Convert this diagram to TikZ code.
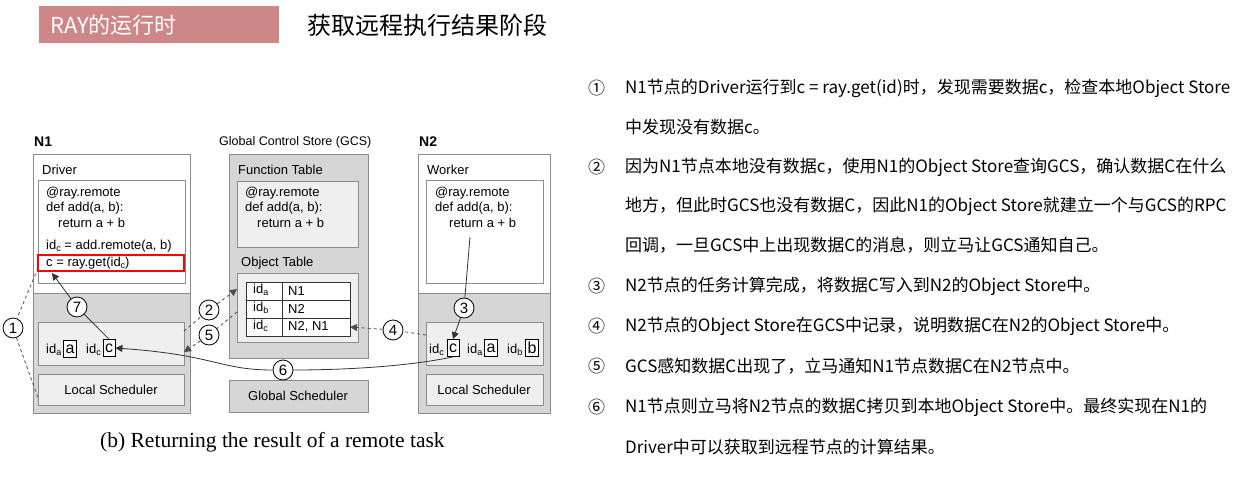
\documentclass[tikz,border=0pt]{standalone}
\usepackage{fontspec}
\usetikzlibrary{arrows.meta}
\newfontfamily\cjk{Noto Sans CJK SC}
\newfontfamily\ars{Liberation Sans}
\newfontfamily\tms{Liberation Serif}
\definecolor{rose}{HTML}{CD8788}
\definecolor{gbox}{HTML}{D6D6D6}
\definecolor{lbox}{HTML}{EFEFEF}
\definecolor{edge}{HTML}{8C8C8C}
\newcommand{\idx}[1]{id\raisebox{-2.5pt}{\fontsize{9}{9}\selectfont #1}}

\begin{document}
\begin{tikzpicture}[x=1pt,y=-1pt]
  \tikzset{G/.style={draw=edge, fill=gbox}}
  \tikzset{L/.style={draw=edge, fill=lbox}}
  \tikzset{W/.style={draw=edge, fill=white}}
  \tikzset{T/.style={font=\ars\fontsize{13}{14}\selectfont, anchor=west, inner sep=0}}
  \tikzset{CI/.style={circle, draw=black, fill=white, thick, inner sep=0, minimum size=20,
      font=\ars\fontsize{15}{15}\selectfont}}
  \tikzset{OB/.style={draw=black, thick, fill=white, inner sep=2, minimum height=17,
      font=\ars\fontsize{16}{16}\selectfont}}
  \tikzset{DA/.style={dashed, draw=black!70, thick, -{Triangle[length=7,width=7]}}}
  \tikzset{SO/.style={thick, draw=black!80, -{Triangle[length=7,width=7]}}}
  \tikzset{TX/.style={font=\cjk\fontsize{17}{17}\selectfont, anchor=west, inner sep=0}}
  \useasboundingbox (0,0) rectangle (1253,503);
  \fill[white] (0,0) rectangle (1253,503);

  % header
  \fill[rose] (39,6) rectangle (279,43);
  \node[TX, text=white, font=\cjk\fontsize{22}{22}\selectfont] (hd) at (50,25) {RAY的运行时};
  \node[TX, font=\cjk\fontsize{24}{24}\selectfont] (tt) at (307,25) {获取远程执行结果阶段};

  % N1
  \node[T, font=\ars\fontsize{14}{14}\selectfont\bfseries] (n1) at (34,142) {N1};
  \draw[W] (33,154) rectangle (190,413);
  \fill[gbox] (33.5,293) rectangle (189.5,412.5);
  \draw[edge] (33,293) -- (190,293);
  \node[T] (drv) at (42,170) {Driver};
  \draw[W] (38,180) rectangle (185,283);
  \node[T] at (46,193) {@ray.remote};
  \node[T] at (46,208) {def add(a, b):};
  \node[T] at (58,223) {return a + b};
  \node[T] at (46,246) {\idx{c} = add.remote(a, b)};
  \node[T] (get) at (46,263) {c = ray.get(\idx{c})};
  \draw[red, very thick] (38,255) rectangle (184,271);
  \draw[L] (38,322) rectangle (184,365);
  \node[T] at (46,350) {\idx{a}};
  \node[OB] (a1) at (70,349) {a};
  \node[T] at (86,350) {\idx{c}};
  \node[OB] (c1) at (109,348) {c};
  \draw[L] (38,374) rectangle (184,405);
  \node[T, anchor=center] (ls1) at (111,390) {Local Scheduler};

  % GCS
  \node[T, font=\ars\fontsize{12.5}{13}\selectfont] (gcs) at (219,142) {Global Control Store (GCS)};
  \draw[G] (229,154) rectangle (368,358);
  \node[T] (ft) at (238,170) {Function Table};
  \draw[L] (237,181) rectangle (358,247);
  \node[T] at (245,193) {@ray.remote};
  \node[T] at (245,208) {def add(a, b):};
  \node[T] at (257,223) {return a + b};
  \node[T] (ot) at (241,263) {Object Table};
  \draw[L] (237,273) rectangle (358,342);
  \draw[W, draw=black!80] (246,282) rectangle (350,336);
  \draw[black!80] (246,300) -- (350,300) (246,318) -- (350,318) (282,282) -- (282,336);
  \node[T] at (253,290) {\idx{a}};  \node[T] at (288,291) {N1};
  \node[T] at (253,308) {\idx{b}};  \node[T] at (288,309) {N2};
  \node[T] at (253,326) {\idx{c}};  \node[T] (row) at (288,327) {N2, N1};
  \coordinate (ra) at (350,327);
  \coordinate (tA) at (237,289);
  \coordinate (tB) at (237,312);
  \draw[G] (229,380) rectangle (368,412);
  \node[T, anchor=center] (gs) at (298,396) {Global Scheduler};

  % N2
  \node[T, font=\ars\fontsize{14}{14}\selectfont\bfseries] (n2) at (419,142) {N2};
  \draw[W] (418,154) rectangle (550,413);
  \fill[gbox] (418.5,293) rectangle (549.5,412.5);
  \draw[edge] (418,293) -- (550,293);
  \node[T] (wk) at (427,170) {Worker};
  \draw[W] (426,180) rectangle (543,283);
  \node[T] at (435,193) {@ray.remote};
  \node[T] at (435,208) {def add(a, b):};
  \node[T] (ret) at (449,223) {return a + b};
  \draw[L] (426,322) rectangle (543,365);
  \node[T] at (429,350) {\idx{c}};
  \node[OB] (c2) at (453,348) {c};
  \node[T] at (467,350) {\idx{a}};
  \node[OB] (a2) at (491,348) {a};
  \node[T] at (507,350) {\idx{b}};
  \node[OB] (b2) at (532,348) {b};
  \draw[L] (426,374) rectangle (543,405);
  \node[T, anchor=center] (ls2) at (484,390) {Local Scheduler};

  % steps
  \coordinate (d1) at (38,268);
  \coordinate (d2) at (38,398);
  \coordinate (o1) at (184,331);
  \coordinate (o2) at (184,352);
  \coordinate (o3) at (426,335);
  \coordinate (w1) at (470,237);
  \node[CI] (s1) at (13,328) {1};
  \node[CI] (s2) at (209,310) {2};
  \node[CI] (s3) at (464,308) {3};
  \node[CI] (s4) at (393,330) {4};
  \node[CI] (s5) at (209,335) {5};
  \node[CI] (s6) at (283,370) {6};
  \node[CI] (s7) at (77,307) {7};
  \draw[dashed, thick, black!70] (d1) -- (s1) -- (d2);
  \draw[DA] (o1) -- (s2) -- (tA);
  \draw[DA] (tB) -- (s5) -- (o2);
  \draw[DA] (o3) -- (s4) -- (ra);
  \draw[SO] (w1) -- (s3) -- (c2.north);
  \draw[SO] (c1.north) -- (s7) -- (52,273);
  \draw[SO] (c2.south) .. controls (400,368) and (330,370) .. (s6.east)
    (s6.west) .. controls (220,370) and (215,355) .. (c1.east);

  \node[T, font=\tms\fontsize{21.5}{22}\selectfont] (cap) at (100,442) {(b) Returning the result of a remote task};

  % text
  \foreach \n/\y in {①/88,②/167,③/286,④/326,⑤/366,⑥/407}
    \node[TX] at (588,\y) {\n};
  \node[TX] (l1) at (625,88) {N1节点的Driver运行到c = ray.get(id)时，发现需要数据c，检查本地Object Store};
  \node[TX] (l2) at (625,127) {中发现没有数据c。};
  \node[TX] (l3) at (625,167) {因为N1节点本地没有数据c，使用N1的Object Store查询GCS，确认数据C在什么};
  \node[TX] (l4) at (625,206) {地方，但此时GCS也没有数据C，因此N1的Object Store就建立一个与GCS的RPC};
  \node[TX] (l5) at (625,245) {回调，一旦GCS中上出现数据C的消息，则立马让GCS通知自己。};
  \node[TX] (l6) at (625,286) {N2节点的任务计算完成，将数据C写入到N2的Object Store中。};
  \node[TX] (l7) at (625,326) {N2节点的Object Store在GCS中记录，说明数据C在N2的Object Store中。};
  \node[TX] (l8) at (625,366) {GCS感知数据C出现了，立马通知N1节点数据C在N2节点中。};
  \node[TX] (l9) at (625,407) {N1节点则立马将N2节点的数据C拷贝到本地Object Store中。最终实现在N1的};
  \node[TX] (l10) at (625,447) {Driver中可以获取到远程节点的计算结果。};
\end{tikzpicture}
\end{document}
